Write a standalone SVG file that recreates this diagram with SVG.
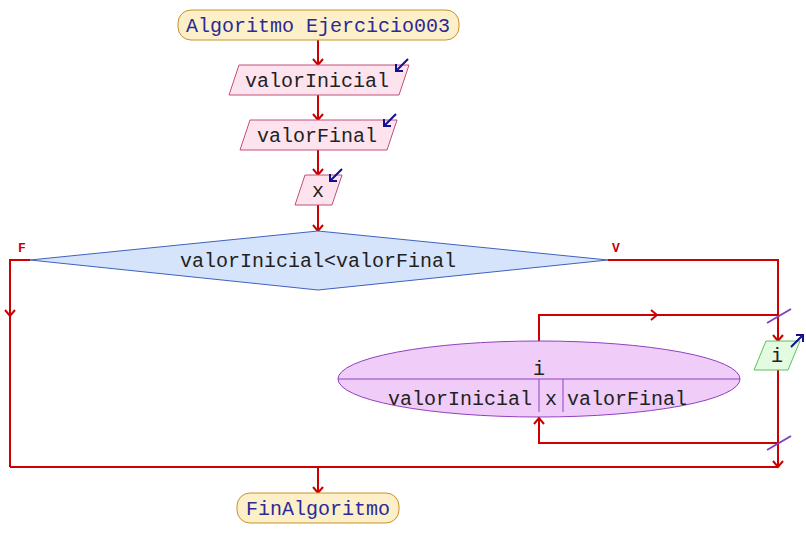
<svg xmlns="http://www.w3.org/2000/svg" width="806" height="558" viewBox="0 0 806 558">
<style>
text{font-family:"Liberation Mono","Courier New",monospace;font-size:20px;fill:#222}
.t{fill:#2a2a9a}
.c{fill:none;stroke:#cc0000;stroke-width:2}
.io{fill:#fde3ee;stroke:#c0507a}
.ar{fill:none;stroke:#cc0000;stroke-width:2}
.bl{stroke:#101090;stroke-width:2;fill:none}
.sl{stroke:#8040c0;stroke-width:2}
</style>
<rect width="806" height="558" fill="#fff"/>
<g id="connectors">
<path class="c" d="M318 40V65M318 95V120M318 150V175M318 205V231"/>
<path class="c" d="M30 260H10V467M608 260H778V341M778 370V467M10 467H778M318 467V493"/>
<path class="c" d="M539 341V315H778M778 443H539V417"/>
<path class="ar" d="M313 59l5 6 5-6M313 114l5 6 5-6M313 169l5 6 5-6M313 225l5 6 5-6M5 310l5 6 5-6M773 335l5 6 5-6M773 461l5 6 5-6M313 487l5 6 5-6M534 424l5-6 5 6M651 310l6 5-6 5"/>
<path class="sl" d="M767 323L791 309M767 450L791 436"/>
<text x="18" y="252" style="font-size:13px;fill:#cc0000;font-weight:bold">F</text>
<text x="612" y="252" style="font-size:13px;fill:#cc0000;font-weight:bold">V</text>
</g>
<g id="start"><rect x="178" y="10" width="281" height="30" rx="13" fill="#fdf0c8" stroke="#c8922a"/><text class="t" x="318" y="32" text-anchor="middle">Algoritmo Ejercicio003</text></g>
<g id="in1"><polygon class="io" points="239,65 409,65 399,95 229,95"/><text x="317" y="87" text-anchor="middle">valorInicial</text><path class="bl" d="M408 59L396 71M396 64V71H403"/></g>
<g id="in2"><polygon class="io" points="250,120 397,120 387,150 240,150"/><text x="317" y="142" text-anchor="middle">valorFinal</text><path class="bl" d="M396 114L384 126M384 119V126H391"/></g>
<g id="in3"><polygon class="io" points="305,175 342,175 332,205 295,205"/><text x="318" y="197" text-anchor="middle">x</text><path class="bl" d="M342 169L330 181M330 174V181H337"/></g>
<g id="cond"><polygon points="30,260 318,231 608,260 318,290" fill="#d5e3fb" stroke="#4060c0"/><text x="318" y="267" text-anchor="middle">valorInicial&lt;valorFinal</text></g>
<g id="for"><ellipse cx="539" cy="379" rx="201" ry="38" fill="#f0ccf8" stroke="#9040c0"/><path d="M338 379H740M539 379V412M563 379V412" stroke="#9040c0"/>
<text x="539" y="375" text-anchor="middle">i</text><text x="460" y="405" text-anchor="middle">valorInicial</text><text x="551" y="405" text-anchor="middle">x</text><text x="627" y="405" text-anchor="middle">valorFinal</text></g>
<g id="out"><polygon points="766,341 800,341 788,370 754,370" fill="#e3fbe0" stroke="#60c060"/><text x="777" y="362" text-anchor="middle">i</text><path class="bl" d="M791 347L803 335M796 335H803V342"/></g>
<g id="end"><rect x="237" y="493" width="162" height="30" rx="13" fill="#fdf0c8" stroke="#c8922a"/><text class="t" x="318" y="515" text-anchor="middle">FinAlgoritmo</text></g>
</svg>
